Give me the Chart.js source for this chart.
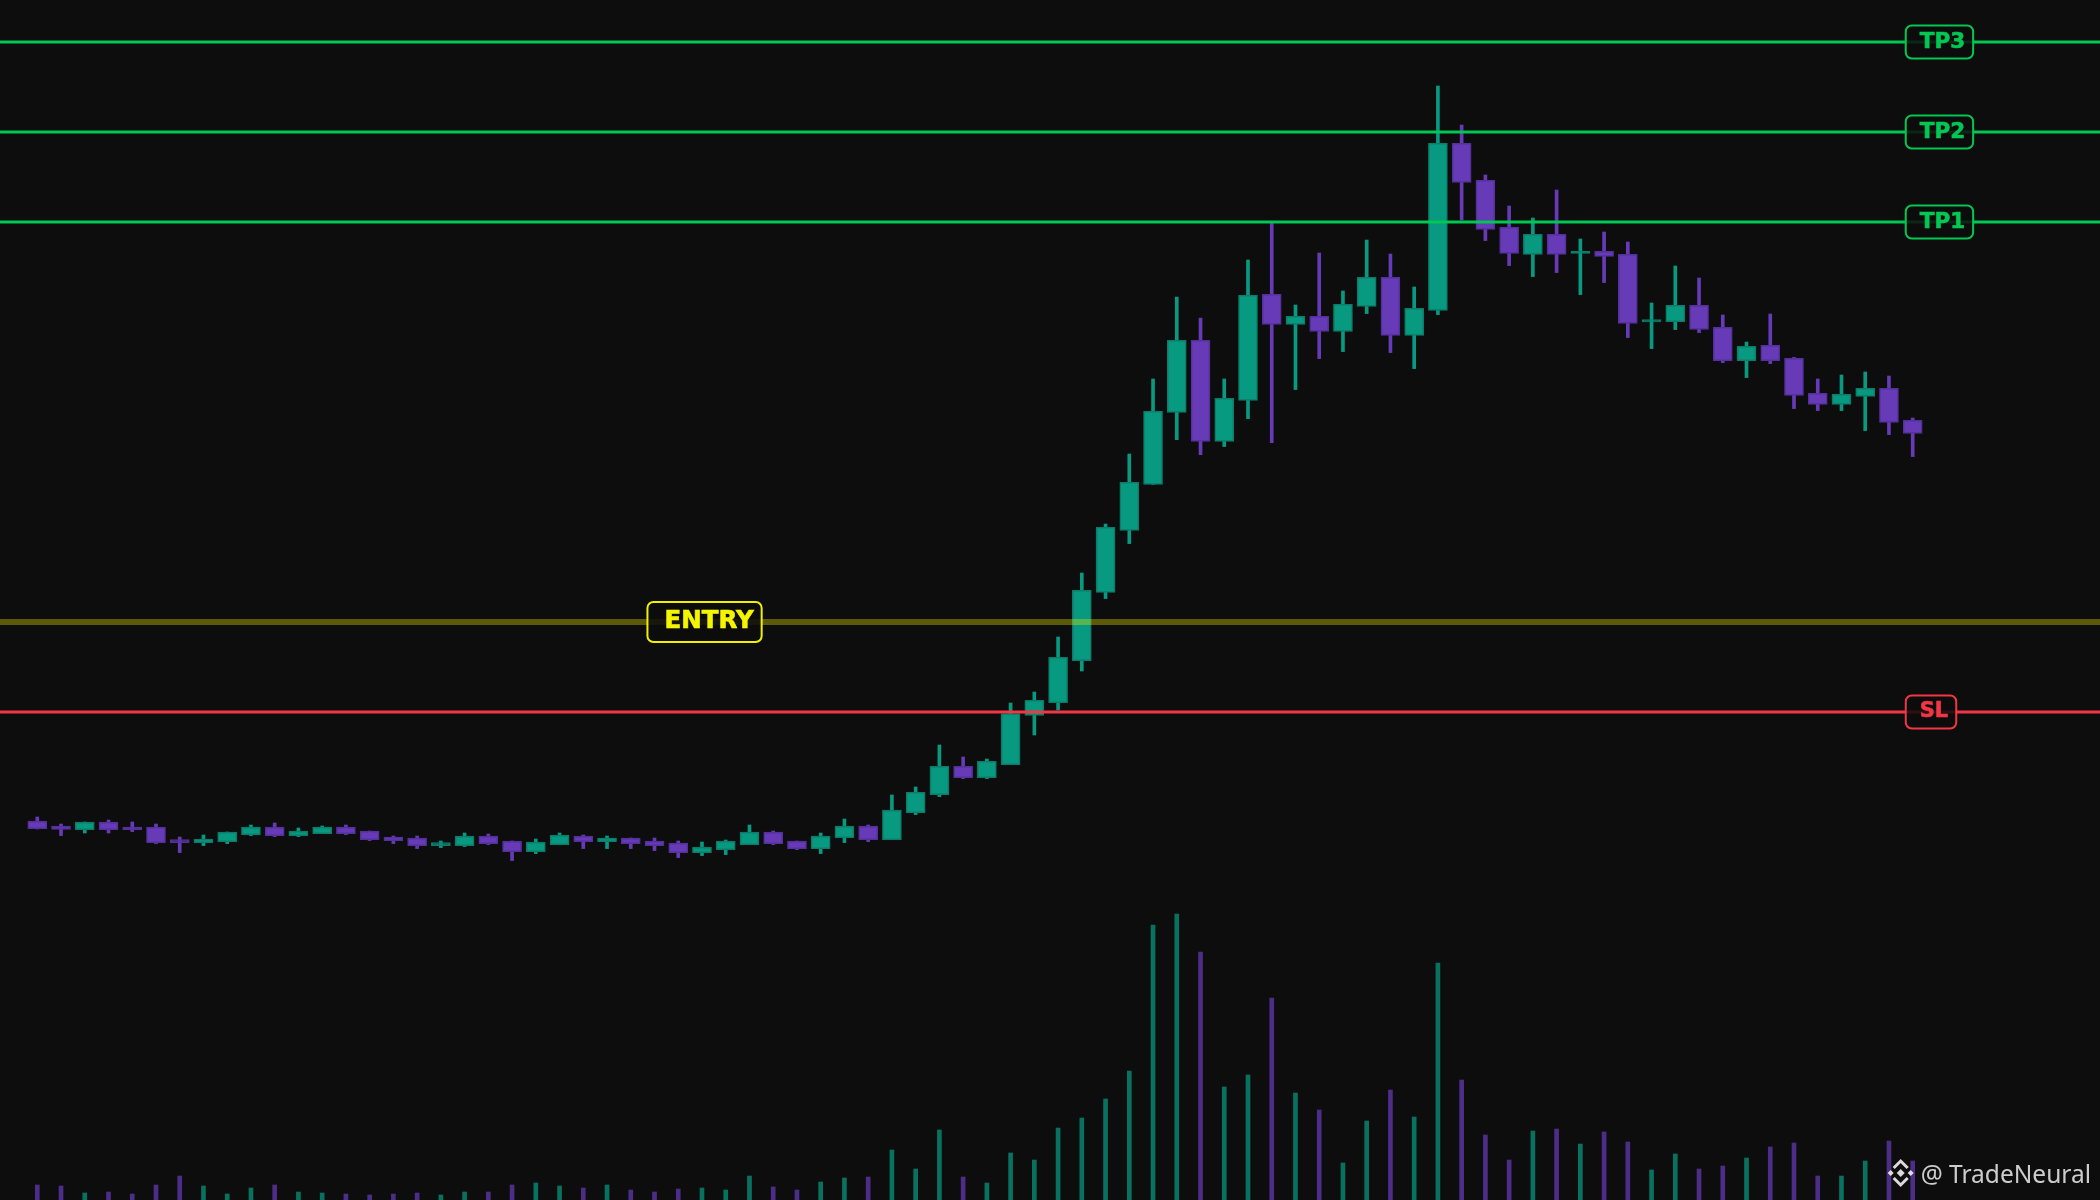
<!DOCTYPE html>
<html>
<head>
<meta charset="utf-8">
<title>Trade setup</title>
<script src="https://cdn.jsdelivr.net/npm/chart.js@4.4.1/dist/chart.umd.min.js"></script>
<style>
  html, body { margin: 0; padding: 0; background: #0d0d0d; overflow: hidden; }
  #chart-box { width: 2100px; height: 1200px; position: relative; }
</style>
</head>
<body>
<div id="chart-box"><canvas id="my-chart"></canvas></div>
<script>
'use strict';

// ******* DATA (one entry per candle) *********
let opens = [
  90.05, 89.80, 89.62, 90.00, 89.75, 89.75, 89.12, 88.97, 89.02, 89.35,
  89.75, 89.32, 89.42, 89.75, 89.55, 89.25, 89.20, 88.82, 88.82, 89.30,
  89.05, 88.52, 88.87, 89.30, 89.02, 89.20, 89.05, 88.95, 88.47, 88.62,
  88.87, 89.50, 89.05, 88.67, 89.22, 89.80, 89.12, 90.47, 91.37, 92.78,
  92.22, 92.87, 95.33, 95.97, 98.07, 101.48, 104.58, 106.88, 110.48, 114.08,
  109.03, 111.08, 116.38, 114.88, 115.28, 114.53, 115.78, 117.23, 114.33, 115.58,
  123.93, 122.08, 119.73, 118.38, 119.38, 118.43, 118.53, 118.38, 115.00, 115.02,
  115.83, 114.73, 113.07, 113.83, 113.18, 111.43, 110.88, 111.28, 111.68, 110.08
];
let highs = [
  90.25, 89.90, 90.00, 90.10, 90.00, 89.90, 89.25, 89.35, 89.50, 89.85,
  89.95, 89.70, 89.80, 89.85, 89.55, 89.30, 89.30, 89.05, 89.45, 89.40,
  89.05, 89.15, 89.45, 89.35, 89.30, 89.20, 89.20, 89.05, 89.00, 89.10,
  89.85, 89.55, 89.05, 89.45, 90.15, 89.85, 91.35, 91.75, 93.85, 93.25,
  93.15, 95.95, 96.50, 99.25, 102.45, 104.90, 108.40, 112.15, 116.25, 115.20,
  112.15, 118.10, 120.03, 115.85, 118.45, 116.55, 119.10, 118.40, 116.75, 126.80,
  124.85, 122.35, 120.80, 120.20, 121.60, 119.15, 119.50, 119.00, 115.95, 117.80,
  117.20, 115.35, 114.00, 115.40, 113.23, 112.15, 112.35, 112.50, 112.30, 110.20
];
let lows = [
  89.65, 89.32, 89.45, 89.45, 89.52, 88.92, 88.47, 88.82, 88.92, 89.32,
  89.27, 89.27, 89.42, 89.37, 89.07, 88.92, 88.67, 88.72, 88.77, 88.87,
  88.07, 88.42, 88.87, 88.67, 88.67, 88.67, 88.57, 88.22, 88.32, 88.37,
  88.87, 88.87, 88.62, 88.42, 88.97, 89.02, 89.12, 90.37, 91.27, 92.17,
  92.17, 92.87, 94.35, 95.60, 97.55, 101.17, 103.92, 106.88, 109.12, 108.37,
  108.77, 110.17, 108.97, 111.62, 113.17, 113.52, 115.42, 113.47, 112.67, 115.37,
  120.10, 119.07, 117.82, 117.27, 117.47, 116.37, 116.97, 114.22, 113.67, 114.62,
  114.47, 112.97, 112.22, 112.92, 110.67, 110.57, 110.57, 109.57, 109.37, 108.27
];
let closes = [
  89.67, 89.63, 90.00, 89.62, 89.62, 88.97, 88.97, 89.15, 89.50, 89.75,
  89.32, 89.55, 89.75, 89.42, 89.12, 89.07, 88.82, 88.97, 89.30, 88.92,
  88.52, 89.00, 89.35, 89.02, 89.20, 88.92, 88.82, 88.47, 88.75, 89.05,
  89.50, 88.92, 88.67, 89.30, 89.80, 89.12, 90.60, 91.48, 92.78, 92.22,
  93.03, 95.42, 96.08, 98.23, 101.58, 104.73, 106.98, 110.53, 114.08, 109.03,
  111.18, 116.33, 114.88, 115.28, 114.53, 115.88, 117.23, 114.33, 115.68, 123.93,
  121.98, 119.63, 118.43, 119.38, 118.38, 118.53, 118.28, 114.93, 115.12, 115.83,
  114.63, 113.07, 113.78, 113.07, 111.33, 110.88, 111.38, 111.68, 109.98, 109.43
];
let volumes = [
  15, 14, 7, 8, 6, 15, 24, 14, 6, 12,
  15, 8, 7, 6, 5, 6, 7, 5, 8, 8,
  15, 17, 14, 12, 15, 10, 8, 11, 12, 10,
  24, 13, 10, 18, 22, 23, 50, 31, 70, 23,
  17, 47, 40, 72, 82, 101, 129, 275, 286, 248,
  113, 125, 202, 107, 90, 37, 79, 110, 83, 237,
  120, 65, 40, 69, 71, 56, 68, 58, 30, 46,
  31, 34, 42, 53, 57, 24, 24, 39, 59, 39
];

// ******* TRADE LEVELS *********
let levelNames = ['TP3', 'TP2', 'TP1', 'ENTRY', 'SL'];
let levelPrices = [129, 124.5, 120, 100, 95.5];

// ******* STYLE *********
let upColor = '#089981';
let downColor = '#673ab7';
let upBorder = '#0b7c69';
let downBorder = '#53309a';
let upVol = 'rgba(8, 153, 129, 0.72)';
let downVol = 'rgba(103, 58, 183, 0.72)';

let levelStyles = {
  TP3: { color: '#00c853', text: '#00c853', width: 3.2, font: 21.5, boxH: 33, padL: 14, anchor: 'left', spot: 0.9075 },
  TP2: { color: '#00c853', text: '#00c853', width: 3.2, font: 21.5, boxH: 33, padL: 14, anchor: 'left', spot: 0.9075 },
  TP1: { color: '#00c853', text: '#00c853', width: 3.2, font: 21.5, boxH: 33, padL: 14, anchor: 'left', spot: 0.9075 },
  ENTRY: { color: 'rgba(235, 235, 0, 0.35)', text: '#f5f500', box: '#f0f000', width: 6, font: 24.5, boxH: 40, padL: 17, anchor: 'center', spot: 0.3355 },
  SL: { color: '#f23645', text: '#f23645', width: 3.2, font: 21, boxH: 33, padL: 14, anchor: 'left', spot: 0.9075 }
};

// ******* BUILD DATASETS *********
let bodyData = [];
let wickData = [];
let volData = [];
let bodyColors = [];
let bodyBorders = [];
let volColors = [];

for (let i = 0; i < opens.length; i++) {
  let up = closes[i] >= opens[i];
  bodyData.push({ x: i, y: [opens[i], closes[i]] });
  wickData.push({ x: i, y: [lows[i], highs[i]] });
  volData.push({ x: i, y: volumes[i] });
  bodyColors.push(up ? upColor : downColor);
  bodyBorders.push(up ? upBorder : downBorder);
  volColors.push(up ? upVol : downVol);
}

// ****** HELPER: ROUNDED LABEL BOX ******
function drawTag(ctx, name, y, area) {
  let st = levelStyles[name];
  ctx.font = `bold ${st.font}px "DejaVu Sans"`;
  let textW = ctx.measureText(name).width;
  let boxW = textW + st.padL + 8;
  let boxX = area.left + area.width * st.spot;
  if (st.anchor === 'center') {
    boxX = boxX - boxW / 2;
  }
  let boxY = y - st.boxH / 2;

  ctx.fillStyle = 'rgba(13, 13, 13, 0.86)';
  ctx.strokeStyle = st.box || st.color;
  ctx.lineWidth = 2;
  ctx.beginPath();
  ctx.roundRect(boxX, boxY, boxW, st.boxH, 6);
  ctx.fill();
  ctx.stroke();

  ctx.fillStyle = st.text;
  ctx.strokeStyle = st.text;
  ctx.lineWidth = 0.6;
  ctx.textAlign = 'left';
  ctx.textBaseline = 'alphabetic';
  ctx.fillText(name, boxX + st.padL, y + st.font * 0.26);
  ctx.strokeText(name, boxX + st.padL, y + st.font * 0.26);
}

// ****** PLUGIN: LEVEL LINES + TAGS ******
let levelPlugin = {
  id: 'levels',
  afterDatasetsDraw(chart) {
    let ctx = chart.ctx;
    let area = chart.chartArea;
    let yScale = chart.scales.y;
    ctx.save();
    for (let i = 0; i < levelNames.length; i++) {
      let st = levelStyles[levelNames[i]];
      let y = yScale.getPixelForValue(levelPrices[i]);
      ctx.strokeStyle = st.color;
      ctx.lineWidth = st.width;
      ctx.beginPath();
      ctx.moveTo(area.left, y);
      ctx.lineTo(area.right, y);
      ctx.stroke();
    }
    for (let i = 0; i < levelNames.length; i++) {
      let y = yScale.getPixelForValue(levelPrices[i]);
      drawTag(ctx, levelNames[i], y, area);
    }
    ctx.restore();
  }
};

// ****** PLUGIN: WATERMARK ******
let watermarkPlugin = {
  id: 'watermark',
  afterDraw(chart) {
    let ctx = chart.ctx;
    let area = chart.chartArea;
    let textRight = area.right - 9;
    let baseY = area.bottom - 17;

    ctx.save();
    ctx.font = '24.5px "Noto Sans"';
    ctx.fillStyle = 'rgba(225, 225, 225, 0.9)';
    ctx.textAlign = 'right';
    ctx.textBaseline = 'alphabetic';
    let label = '@ TradeNeural';
    ctx.fillText(label, textRight, baseY);
    let w = ctx.measureText(label).width;

    // little exchange logo left of the handle
    let cx = textRight - w - 20;
    let cy = baseY - 10;
    ctx.fillStyle = 'rgba(230, 230, 230, 0.95)';
    let diamond = (x, y, r) => {
      ctx.beginPath();
      ctx.moveTo(x, y - r);
      ctx.lineTo(x + r, y);
      ctx.lineTo(x, y + r);
      ctx.lineTo(x - r, y);
      ctx.closePath();
      ctx.fill();
    };
    diamond(cx, cy, 4);
    diamond(cx - 10, cy, 3);
    diamond(cx + 10, cy, 3);
    ctx.strokeStyle = 'rgba(230, 230, 230, 0.95)';
    ctx.lineWidth = 3;
    ctx.beginPath();
    ctx.moveTo(cx - 7, cy - 5);
    ctx.lineTo(cx, cy - 12);
    ctx.lineTo(cx + 7, cy - 5);
    ctx.moveTo(cx - 7, cy + 5);
    ctx.lineTo(cx, cy + 12);
    ctx.lineTo(cx + 7, cy + 5);
    ctx.stroke();
    ctx.restore();
  }
};

// ****** CHART ******
let ctx = document.getElementById('my-chart');

let chartObj = {
  type: 'bar',
  data: {
    datasets: [
      {
        label: 'Body',
        data: bodyData,
        yAxisID: 'y',
        backgroundColor: bodyColors,
        borderColor: bodyBorders,
        borderWidth: 1.5,
        borderSkipped: false,
        barThickness: 19,
        grouped: false
      },
      {
        label: 'Wick',
        data: wickData,
        yAxisID: 'y',
        backgroundColor: bodyColors,
        borderWidth: 0,
        barThickness: 3,
        grouped: false
      },
      {
        label: 'Volume',
        data: volData,
        yAxisID: 'yv',
        backgroundColor: volColors,
        borderWidth: 0,
        barThickness: 4,
        grouped: false
      }
    ]
  },
  options: {
    responsive: true,
    maintainAspectRatio: false,
    devicePixelRatio: 1,
    animation: false,
    layout: { padding: 0 },
    scales: {
      x: {
        type: 'linear',
        min: -1.571,
        max: 86.89,
        offset: false,
        display: false,
        grid: { display: false, offset: false }
      },
      y: {
        min: 71.1,
        max: 131.1,
        display: false
      },
      yv: {
        min: 0,
        max: 1200,
        display: false
      }
    },
    plugins: {
      legend: { display: false },
      tooltip: { enabled: false }
    }
  },
  plugins: [levelPlugin, watermarkPlugin]
};

new Chart(ctx, chartObj); //eslint-disable-line
</script>
</body>
</html>
